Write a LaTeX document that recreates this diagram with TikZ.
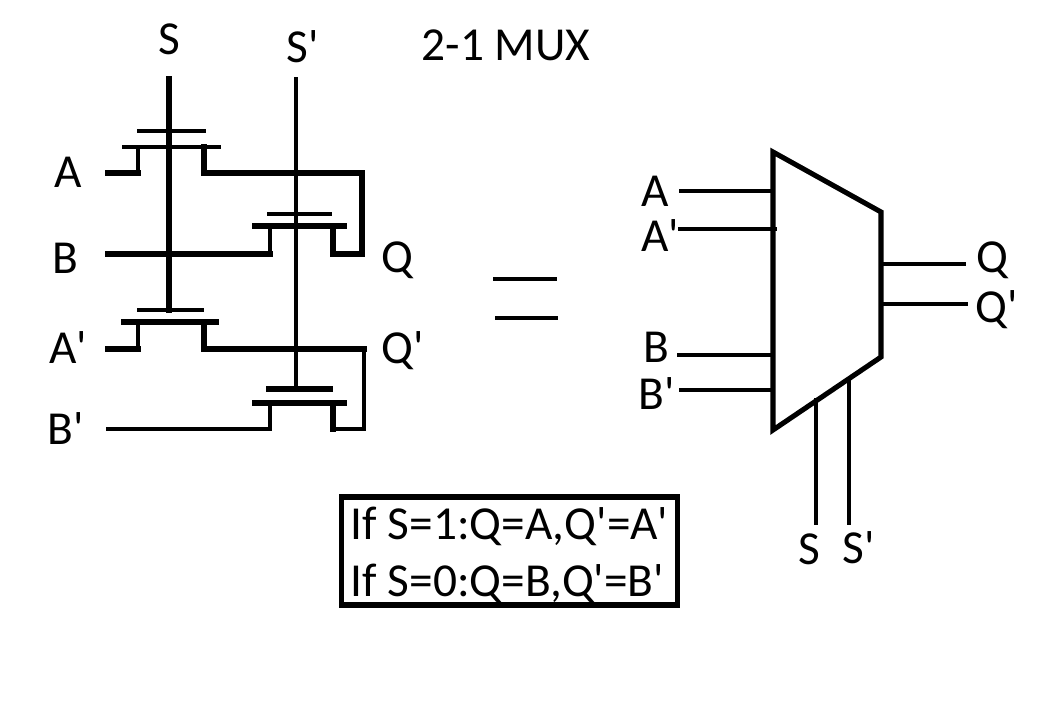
\documentclass[tikz,border=0pt]{standalone}
\usepackage{fontspec}
\setmainfont{Carlito}[Ligatures=TeXOff]

\begin{document}
\begin{tikzpicture}[x=0.75pt,y=-0.75pt,line cap=rect,line join=miter,
		thin wire/.style={draw,line width=2.4pt},
		base wire/.style={draw,line width=3.2pt},
		heavy wire/.style={draw,line width=4.2pt},
		pin/.style={font=\fontsize{35.5}{43}\selectfont,inner sep=0pt,text height=22.9pt,text depth=0pt},
		note box/.style={draw,line width=3.8pt,font=\fontsize{35.5}{43}\selectfont,align=left,minimum width=252pt,minimum height=81pt,inner sep=0pt}]
		\useasboundingbox (0,0) rectangle (1048,704);
		% labels of the pass gates
		\node[pin] (s1) at (169,39) {S};
		\node[pin] (s2) at (303,47) {S'};
		\node[pin] (title) at (506,45) {2-1 MUX};
		\node[pin] (a1) at (68,172) {A};
		\node[pin] (b1) at (65,258) {B};
		\node[pin] (c1) at (68,348) {A'};
		\node[pin] (d1) at (66,429) {B'};
		\node[pin] (q1) at (397,257) {Q};
		\node[pin] (r1) at (403,348) {Q'};
		
		% first gate
		\coordinate (gs) at (169,79);
		\coordinate (ga1) at (139,131);
		\coordinate (ga2) at (204,131);
		\coordinate (ca1) at (124,147);
		\coordinate (ca2) at (219,147);
		\coordinate (ia) at (108,173);
		\coordinate (ja) at (138,173);
		\coordinate (ka) at (138,147);
		\coordinate (la) at (204,147);
		\coordinate (ma) at (204,173);
		\coordinate (na) at (362,173);
		
		% second gate
		\coordinate (gt) at (296,79);
		\coordinate (gb1) at (269,214);
		\coordinate (gb2) at (330,214);
		\coordinate (cb1) at (255,226);
		\coordinate (cb2) at (344,226);
		\coordinate (ib) at (108,254);
		\coordinate (jb) at (270,254);
		\coordinate (kb) at (270,226);
		\coordinate (lb) at (333,226);
		\coordinate (mb) at (333,254);
		\coordinate (nb) at (362,254);
		
		% third gate
		\coordinate (gc1) at (139,310);
		\coordinate (gc2) at (202,310);
		\coordinate (gsb) at (169,310);
		\coordinate (cc1) at (124,322);
		\coordinate (cc2) at (216,322);
		\coordinate (ic) at (108,349);
		\coordinate (jc) at (138,349);
		\coordinate (kc) at (138,322);
		\coordinate (lc) at (204,322);
		\coordinate (mc) at (204,349);
		\coordinate (nc) at (364,349);
		
		% fourth gate
		\coordinate (gd1) at (269,389);
		\coordinate (gd2) at (330,389);
		\coordinate (gtb) at (296,389);
		\coordinate (cd1) at (255,403);
		\coordinate (cd2) at (344,403);
		\coordinate (id) at (108,429);
		\coordinate (jd) at (270,429);
		\coordinate (kd) at (270,403);
		\coordinate (ld) at (333,403);
		\coordinate (md) at (333,429);
		\coordinate (nd) at (364,429);
		
		\draw[heavy wire] (gs) -- (gsb);
		\draw[base wire] (gt) -- (gtb);
		\draw[base wire] (ga1) -- (ga2);
		\draw[base wire] (ca1) -- (ca2);
		\draw[base wire] (gb1) -- (gb2);
		\draw[heavy wire] (cb1) -- (cb2);
		\draw[base wire] (gc1) -- (gc2);
		\draw[heavy wire] (cc1) -- (cc2);
		\draw[heavy wire] (gd1) -- (gd2);
		\draw[heavy wire] (cd1) -- (cd2);
		
		\draw[heavy wire] (ia) -- (ja);
		\draw[base wire] (ja) -- (ka);
		\draw[heavy wire] (la) -- (ma) -- (na);
		\draw[heavy wire] (na) -- (nb);
		\draw[heavy wire] (ib) -- (jb);
		\draw[base wire] (jb) -- (kb);
		\draw[heavy wire] (lb) -- (mb) -- (nb);
		\draw[heavy wire] (ic) -- (jc);
		\draw[base wire] (jc) -- (kc);
		\draw[heavy wire] (lc) -- (mc) -- (nc);
		\draw[thin wire] (nc) -- (nd) -- (md);
		\draw[heavy wire] (md) -- (ld);
		\draw[base wire] (id) -- (jd) -- (kd);
		
		% equals sign
		\coordinate (e1) at (495,279);
		\coordinate (e2) at (555,279);
		\coordinate (e3) at (497,318);
		\coordinate (e4) at (556,318);
		\draw[base wire] (e1) -- (e2);
		\draw[base wire] (e3) -- (e4);
		
		\node[note box] (note) at (509.5,551) {\rule{0pt}{30pt}If S=1:Q=A,Q'=A'\\If S=0:Q=B,Q'=B'};
		
		% mux block
		\coordinate (m1) at (773,152);
		\coordinate (m2) at (881,212);
		\coordinate (m3) at (881,357);
		\coordinate (m4) at (773,430);
		\draw[heavy wire,line width=3.8pt] (m1) -- (m2) -- (m3) -- (m4) -- cycle;
		
		\node[pin] (a2) at (655,191) {A};
		\node[pin] (c2) at (660,236) {A'};
		\node[pin] (b2) at (656,347) {B};
		\node[pin] (d2) at (657,394) {B'};
		\node[pin] (q2) at (992,257) {Q};
		\node[pin] (r2) at (997,307) {Q'};
		\node[pin] (s3) at (809,549) {S};
		\node[pin] (s4) at (859,548) {S'};
		
		\coordinate (pa1) at (681,191);
		\coordinate (pa2) at (773,191);
		\coordinate (pc1) at (680,229);
		\coordinate (pc2) at (775,229);
		\coordinate (pb1) at (679,355);
		\coordinate (pb2) at (773,355);
		\coordinate (pd1) at (681,390);
		\coordinate (pd2) at (773,390);
		\coordinate (pq1) at (881,264);
		\coordinate (pq2) at (964,264);
		\coordinate (pr1) at (881,304);
		\coordinate (pr2) at (966,304);
		\coordinate (ps1) at (816,400);
		\coordinate (ps2) at (816,523);
		\coordinate (pt1) at (849,380);
		\coordinate (pt2) at (849,523);
		
		\path[base wire]
		(pa1) edge (pa2)
		(pc1) edge (pc2)
		(pb1) edge (pb2)
		(pd1) edge (pd2)
		(pq1) edge (pq2)
		(pr1) edge (pr2)
		(ps1) edge (ps2)
		(pt1) edge (pt2);
		
\end{tikzpicture}
\end{document}
